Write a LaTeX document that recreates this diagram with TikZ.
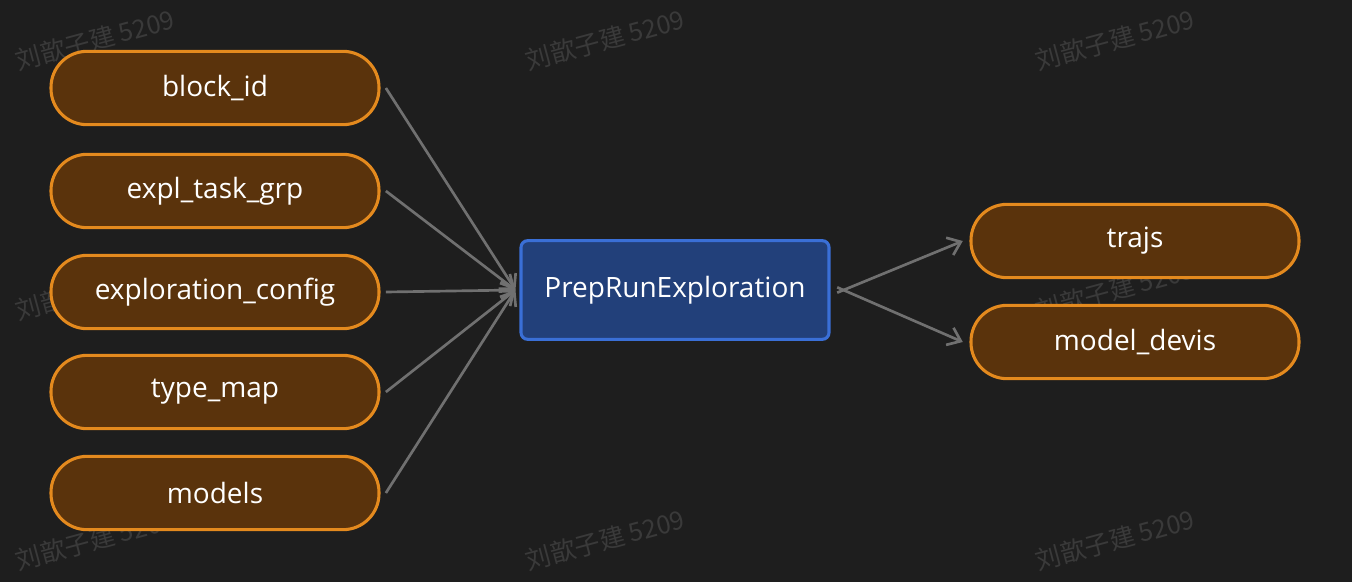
\documentclass[tikz,border=0pt]{standalone}
\usepackage{fontspec}
\setmainfont{Open Sans}
\newfontfamily\cjkf{Noto Sans CJK SC}
\usetikzlibrary{arrows.meta}
\definecolor{bg}{HTML}{1E1E1E}
\definecolor{pillf}{HTML}{5A330C}
\definecolor{pilld}{HTML}{E48A1E}
\definecolor{boxf}{HTML}{22407A}
\definecolor{boxd}{HTML}{3A6FD6}
\definecolor{arr}{HTML}{707070}
\definecolor{wm}{HTML}{3A3A3A}
\begin{document}
\begin{tikzpicture}[x=0.75pt,y=-0.75pt,
 pill/.style={draw=pilld,fill=pillf,line width=2.3pt,rounded corners=27pt,minimum width=246pt,minimum height=55pt,text=white,font=\fontsize{21}{24}\selectfont},
 box/.style={draw=boxd,fill=boxf,line width=2.3pt,rounded corners=5pt,minimum width=231pt,minimum height=74pt,text=white,font=\fontsize{21}{24}\selectfont},
 con/.style={draw=arr,line width=2pt,-{Straight Barb[length=9pt,width=14pt,line width=2pt]}},
 wmk/.style={text=wm,rotate=15,font=\cjkf\fontsize{19}{22}\selectfont}]
\fill[bg] (0,0) rectangle (1352,582);
\useasboundingbox (0,0) rectangle (1352,582);
\foreach \x/\i in {95/a,605/b,1115/c}{\foreach \y/\j in {40/1,290/2,540/3}{\node[wmk] (w\i\j) at (\x,\y) {刘歆子建 5209};}}
\node[pill] (a) at (215,88) {block\_id};
\node[pill] (b) at (215,191) {expl\_task\_grp};
\node[pill] (c) at (215,292) {exploration\_config};
\node[pill] (d) at (215,392) {type\_map};
\node[pill] (e) at (215,493) {models};
\node[box] (p) at (675,290) {PrepRunExploration};
\node[pill] (t) at (1135,241) {trajs};
\node[pill] (m) at (1135,342) {model\_devis};
\foreach \n in {a,b,c,d,e}{\draw[con] ([xshift=4pt]\n.east) -- ([xshift=-3pt]p.west);}
\draw[con] ([xshift=5pt,yshift=-2pt]p.east) -- ([xshift=-5pt]t.west);
\draw[con] ([xshift=5pt,yshift=2pt]p.east) -- ([xshift=-5pt]m.west);
\end{tikzpicture}
\end{document}
